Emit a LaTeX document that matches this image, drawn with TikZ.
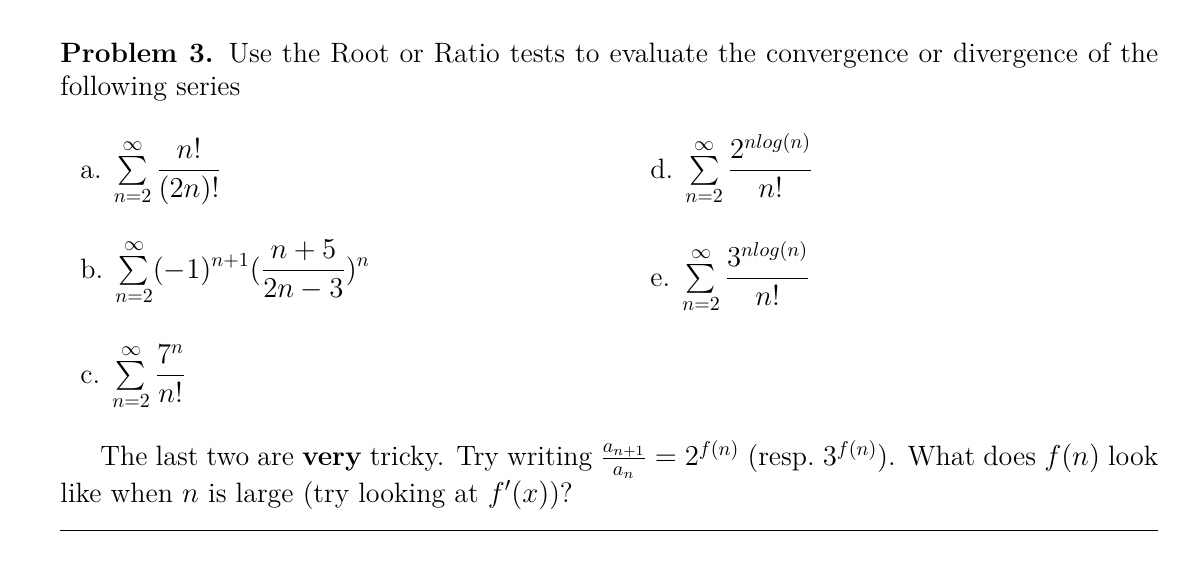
\documentclass[tikz,border=0pt]{standalone}
\usepackage{amsmath}
\newcommand{\smallsum}{\mathop{\textstyle\sum}\limits}
\begin{document}
\begin{tikzpicture}[x=0.5pt,y=-0.5pt,
 txt/.style={inner sep=0pt,font=\fontsize{14}{16.6}\selectfont},
 item/.style={txt,anchor=base west}]
\useasboundingbox (0,0) rectangle (1192,584);
\node[txt,anchor=north west,text width=549pt,align=justify] (p) at (60,42)
 {\textbf{Problem 3.} Use the Root or Ratio tests to evaluate the convergence or divergence of the following series};
\node[item] (a) at (80,178) {a. $\displaystyle\smallsum_{n=2}^{\infty}\frac{n!}{(2n)!}$};
\node[item] (b) at (80,278) {b. $\displaystyle\smallsum_{n=2}^{\infty}(-1)^{n+1}(\frac{n+5}{2n-3})^n$};
\node[item] (c) at (80,383) {c. $\displaystyle\smallsum_{n=2}^{\infty}\frac{7^n}{n!}$};
\node[item] (d) at (650,178) {d. $\displaystyle\smallsum_{n=2}^{\infty}\frac{2^{nlog(n)}}{n!}$};
\node[item] (e) at (650,286) {e. $\displaystyle\smallsum_{n=2}^{\infty}\frac{3^{nlog(n)}}{n!}$};
\node[txt,anchor=north west,text width=549pt,align=justify] (q) at (60,440)
 {\hspace*{20pt}The last two are \textbf{very} tricky. Try writing $\frac{a_{n+1}}{a_n}=2^{f(n)}$ (resp.\ $3^{f(n)}$). What does $f(n)$ look like when $n$ is large (try looking at $f'(x)$)?};
\coordinate (r1) at (60,530);
\coordinate (r2) at (1158,530);
\draw[line width=0.5pt] (r1) -- (r2);
\end{tikzpicture}
\end{document}
